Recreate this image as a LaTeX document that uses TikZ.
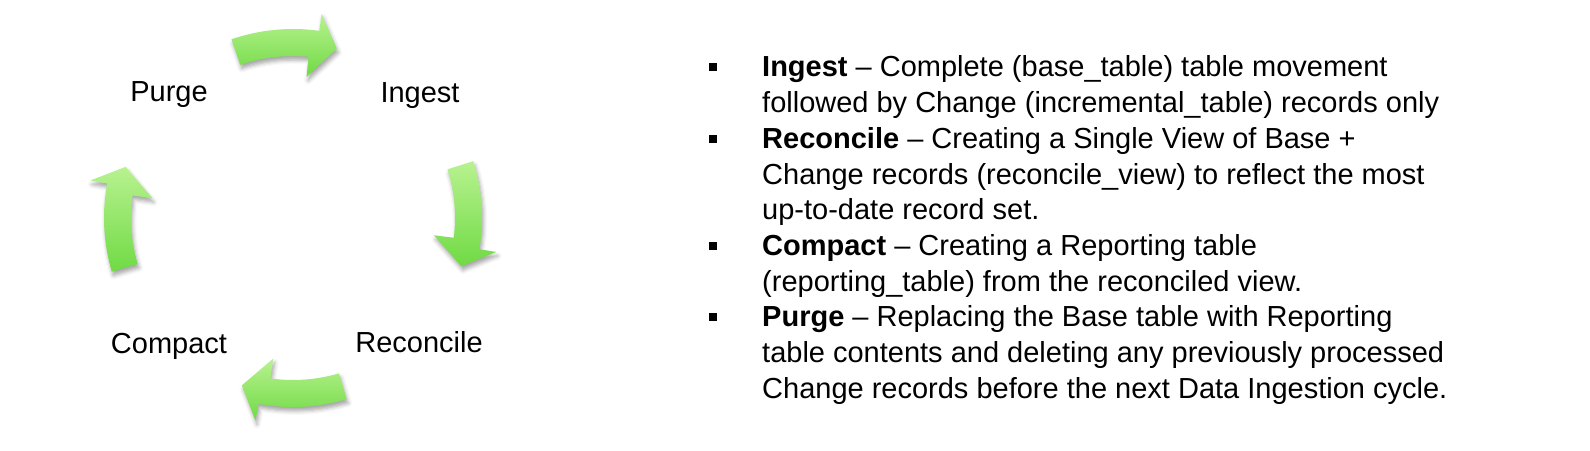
\documentclass[tikz,border=0pt]{standalone}
\usepackage{fontspec}
\setmainfont{Liberation Sans}
\usetikzlibrary{shadows.blur}
\definecolor{gtop}{RGB}{184,242,144}
\definecolor{gbot}{RGB}{112,218,68}
\begin{document}
\begin{tikzpicture}[x=1pt,y=1pt,
  cyc/.style={inner sep=0pt, anchor=base, font=\fontsize{29}{35}\selectfont},
  txt/.style={inner sep=0pt, anchor=base west, font=\fontsize{29}{35}\selectfont},
  bul/.style={fill=black, minimum size=8pt, inner sep=0pt, draw=none},
  arr/.style={top color=gtop, bottom color=gbot, draw=none,
    blur shadow={shadow xshift=1.5pt, shadow yshift=-4pt, shadow blur radius=4pt, shadow opacity=35}}]
\useasboundingbox (0,0) rectangle (1590,450);
\coordinate (C) at (293,232);
\foreach \s in {109,17.5,-73.5,-163.5}{
  \pgfmathsetmacro\eo{\s-27}
  \pgfmathsetmacro\ei{\s-24.5}
  \pgfmathsetmacro\tp{\s-33.5}
  \path[arr] ([shift={(\s:189pt)}]C) arc[start angle=\s, end angle=\eo, radius=189pt]
    -- ([shift={(\eo:206pt)}]C) -- ([shift={(\tp:175pt)}]C) -- ([shift={(\ei:142pt)}]C)
    -- ([shift={(\ei:162pt)}]C) arc[start angle=\ei, end angle=\s, radius=162pt] -- cycle;
}
\node[cyc] (purge) at (169,348) {Purge};
\node[cyc] (ingest) at (420,347) {Ingest};
\node[cyc] (compact) at (169,96) {Compact};
\node[cyc] (reconcile) at (419,97) {Reconcile};

\node[bul] (b1) at (712.5,382.5) {};
\node[bul] (b2) at (712.5,311.1) {};
\node[bul] (b3) at (712.5,204.0) {};
\node[bul] (b4) at (712.5,132.6) {};

\node[txt] (l1) at (762,373) {\textbf{Ingest} – Complete (base\_table) table movement};
\node[txt] (l2) at (762,337.3) {followed by Change (incremental\_table) records only};
\node[txt] (l3) at (762,301.6) {\textbf{Reconcile} – Creating a Single View of Base +};
\node[txt] (l4) at (762,265.9) {Change records (reconcile\_view) to reflect the most};
\node[txt] (l5) at (762,230.2) {up-to-date record set.};
\node[txt] (l6) at (762,194.5) {\textbf{Compact} – Creating a Reporting table};
\node[txt] (l7) at (762,158.8) {(reporting\_table) from the reconciled view.};
\node[txt] (l8) at (762,123.1) {\textbf{Purge} – Replacing the Base table with Reporting};
\node[txt] (l9) at (762,87.4) {table contents and deleting any previously processed};
\node[txt] (l10) at (762,51.7) {Change records before the next Data Ingestion cycle.};
\end{tikzpicture}
\end{document}
